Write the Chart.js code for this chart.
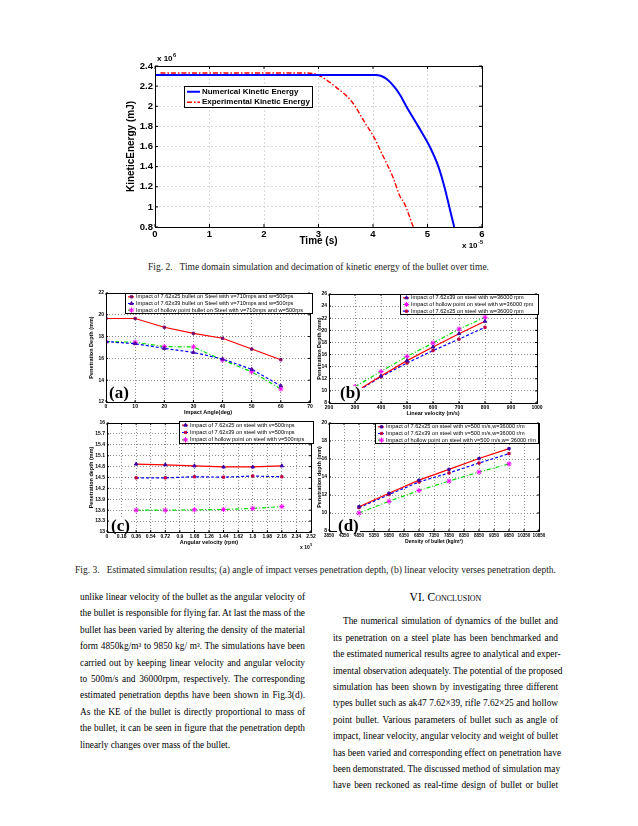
<!DOCTYPE html>
<html>
<head>
<meta charset="utf-8">
<script src="https://cdn.jsdelivr.net/npm/chart.js@4.4.0/dist/chart.umd.min.js"></script>
<style>
  html, body { margin: 0; padding: 0; background: #fff; }
  body { width: 638px; height: 826px; position: relative; overflow: hidden;
         font-family: "Liberation Serif", "Times New Roman", serif; color: #000; }
  canvas { position: absolute; }
  .cap { position: absolute; font-size: 9.5px; white-space: nowrap; color: #222; }
  .tag { position: absolute; font: bold 17px "Liberation Serif", serif; background: #fff; line-height: 13px; padding: 0 1px; }
  .col { position: absolute; width: 225px; font-size: 9.3px; line-height: 16.4px; }
  .col div { text-align: justify; text-align-last: justify; white-space: nowrap; }
  .col div.last { text-align-last: left; }
  .col div.ind { padding-left: 10px; }
  .head { text-align: center !important; text-align-last: center !important; font-variant: small-caps; }
</style>
</head>
<body>

<canvas id="fig2" width="375" height="215" style="left:125px; top:40px"></canvas>
<div class="cap" style="left:148px; top:262px">Fig. 2.&nbsp;&nbsp; Time domain simulation and decimation of kinetic energy of the bullet over time.</div>

<canvas id="figA" width="232" height="135" style="left:88px; top:285px"></canvas>
<canvas id="figB" width="234" height="135" style="left:316px; top:285px"></canvas>
<canvas id="figC" width="232" height="136" style="left:88px; top:418px"></canvas>
<canvas id="figD" width="234" height="136" style="left:316px; top:418px"></canvas>
<span class="tag" style="left:108px; top:386px">(a)</span>
<span class="tag" style="left:339px; top:386px">(b)</span>
<span class="tag" style="left:110px; top:519px">(c)</span>
<span class="tag" style="left:337px; top:519px">(d)</span>
<div class="cap" style="left:75px; top:565px">Fig. 3.&nbsp;&nbsp; Estimated simulation results; (a) angle of impact verses penetration depth, (b) linear velocity verses penetration depth.</div>

<div class="col" style="left:80px; top:589px">
  <div>unlike linear velocity of the bullet as the angular velocity of</div>
  <div>the bullet is responsible for flying far. At last the mass of the</div>
  <div>bullet has been varied by altering the density of the material</div>
  <div>form 4850kg/m³ to 9850 kg/ m³. The simulations have been</div>
  <div>carried out by keeping linear velocity and angular velocity</div>
  <div>to 500m/s and 36000rpm, respectively. The corresponding</div>
  <div>estimated penetration depths have been shown in Fig.3(d).</div>
  <div>As the KE of the bullet is directly proportional to mass of</div>
  <div>the bullet, it can be seen in figure that the penetration depth</div>
  <div class="last">linearly changes over mass of the bullet.</div>
</div>

<div class="col" style="left:333px; top:589px">
  <div class="head" style="font-size:11.5px">VI. Conclusion</div>
  <div class="ind" style="margin-top:8px">The numerical simulation of dynamics of the bullet and</div>
  <div>its penetration on a steel plate has been benchmarked and</div>
  <div>the estimated numerical results agree to analytical and exper-</div>
  <div>imental observation adequately. The potential of the proposed</div>
  <div>simulation has been shown by investigating three different</div>
  <div>types bullet such as ak47 7.62×39, rifle 7.62×25 and hollow</div>
  <div>point bullet. Various parameters of bullet such as angle of</div>
  <div>impact, linear velocity, angular velocity and weight of bullet</div>
  <div>has been varied and corresponding effect on penetration have</div>
  <div>been demonstrated. The discussed method of simulation may</div>
  <div>have been reckoned as real-time design of bullet or bullet</div>
</div>

<script>
// Fig. 2 - kinetic energy over time (x 1e-5 s, x 1e6 mJ)
const timeNum = [0, 4.05, 4.15, 4.25, 4.38, 4.5, 4.61, 4.83, 5.04, 5.2, 5.31, 5.4, 5.49];
const keNum   = [2.31, 2.31, 2.30, 2.27, 2.2, 2.11, 2.0, 1.8, 1.6, 1.4, 1.2, 1.0, 0.8];
const timeExp = [0.1, 2.8, 2.9, 3.0, 3.32, 3.62, 3.87, 4.0, 4.18, 4.37, 4.49, 4.58, 4.74];
const keExp   = [2.33, 2.33, 2.325, 2.31, 2.19, 2.04, 1.82, 1.71, 1.51, 1.29, 1.11, 1.03, 0.8];

// Fig. 3(a) - impact angle
const angle    = [0, 10, 20, 30, 40, 50, 60];
const depthA25 = [19.66, 19.66, 18.86, 18.3, 17.85, 16.86, 15.88];
const depthA39 = [17.54, 17.35, 16.92, 16.55, 15.94, 15.0, 13.48];
const depthAHP = [17.54, 17.48, 17.08, 17.05, 15.85, 14.77, 13.2];

// Fig. 3(b) - linear velocity
const linVel   = [300, 400, 500, 600, 700, 800];
const depthB39 = [9.8, 12.45, 15.0, 17.25, 19.45, 21.5];
const depthBHP = [10.7, 13.2, 15.7, 17.9, 20.2, 22.15];
const depthB25 = [9.7, 12.35, 14.6, 16.65, 18.55, 20.5];

// Fig. 3(c) - angular velocity (x 1e5 rpm)
const angVel   = [0.36, 0.72, 1.08, 1.44, 1.8, 2.16];
const depthC25 = [14.87, 14.85, 14.82, 14.79, 14.79, 14.82];
const depthC39 = [14.49, 14.49, 14.52, 14.51, 14.54, 14.52];
const depthCHP = [13.6, 13.6, 13.61, 13.62, 13.65, 13.7];

// Fig. 3(d) - density of bullet
const density  = [4850, 5850, 6850, 7850, 8850, 9850];
const depthD25 = [10.7, 12.2, 13.65, 14.85, 16.05, 17.15];
const depthD39 = [10.6, 12.05, 13.45, 14.45, 15.55, 16.6];
const depthDHP = [10.0, 11.3, 12.5, 13.55, 14.55, 15.45];

const SANS = '"Liberation Sans", Arial, sans-serif';

function pts(xs, ys) {
    return xs.map((x, i) => ({ x: x, y: ys[i] }));
}

function fmt(v) {
    return String(+v.toFixed(2));
}

/**
 * axe lineaire facon matlab (grille pointillee, taille fixe)
 */
function axis(min, max, step, title, size, fontSize, gridColor, dash) {
    return {
        type: 'linear', min: min, max: max,
        ticks: { stepSize: step, autoSkip: false, maxRotation: 0, color: '#000', padding: 2,
                 font: { family: SANS, size: fontSize, weight: 'bold' }, callback: fmt },
        grid: { color: gridColor, drawTicks: false, lineWidth: 0.8 },
        border: { display: false, dash: dash },
        title: { display: true, text: title, color: '#000', padding: 0,
                 font: { family: SANS, size: fontSize + 0.5, weight: 'bold' } },
        afterFit: s => { if (s.isHorizontal()) s.height = size; else s.width = size; }
    };
}

function line(ctx, x1, y1, x2, y2) {
    ctx.beginPath();
    ctx.moveTo(x1, y1);
    ctx.lineTo(x2, y2);
    ctx.stroke();
}

// cadre, petites graduations, legende et textes en plus
const framePlugin = {
    id: 'frame',
    afterDraw(chart, args, o) {
        const ctx = chart.ctx, a = chart.chartArea;
        ctx.save();
        ctx.strokeStyle = '#000';
        ctx.lineWidth = 1;
        ctx.setLineDash([]);
        ctx.strokeRect(Math.round(a.left) + 0.5, Math.round(a.top) + 0.5,
                       Math.round(a.width), Math.round(a.height));
        const tl = o.tick || 3;
        const sx = chart.scales.x, sy = chart.scales.y;
        sx.ticks.forEach((t, i) => {
            const p = sx.getPixelForTick(i);
            line(ctx, p, a.bottom, p, a.bottom - tl);
            line(ctx, p, a.top, p, a.top + tl);
        });
        sy.ticks.forEach((t, i) => {
            const p = sy.getPixelForTick(i);
            line(ctx, a.left, p, a.left + tl, p);
            line(ctx, a.right, p, a.right - tl, p);
        });

        const L = o.legend;
        if (L) {
            ctx.fillStyle = '#fff';
            ctx.fillRect(L.x, L.y, L.w, L.h);
            ctx.strokeRect(L.x + 0.5, L.y + 0.5, L.w, L.h);
            const n = chart.data.datasets.length;
            const rowH = L.h / n;
            let size = L.font;
            ctx.font = L.weight + ' ' + size + 'px ' + SANS;
            const maxW = Math.max(...chart.data.datasets.map(d => ctx.measureText(d.label).width));
            const room = L.w - L.textX - 2;
            if (maxW > room) size = size * room / maxW;
            ctx.font = L.weight + ' ' + size + 'px ' + SANS;
            ctx.textBaseline = 'middle';
            chart.data.datasets.forEach((d, i) => {
                const cy = L.y + rowH * (i + 0.5) + 0.5;
                ctx.strokeStyle = d.borderColor;
                ctx.lineWidth = d.borderWidth;
                ctx.setLineDash(d.borderDash || []);
                line(ctx, L.x + 3, cy, L.x + L.textX - 2, cy);
                ctx.setLineDash([]);
                if (d.pointRadius > 0) {
                    ctx.fillStyle = d.pointBackgroundColor;
                    ctx.strokeStyle = d.pointBorderColor;
                    ctx.lineWidth = 1;
                    Chart.helpers.drawPoint(ctx, { pointStyle: d.pointStyle, radius: d.pointRadius, rotation: 0, borderWidth: 1 },
                                            L.x + 1 + L.textX / 2, cy);
                }
                ctx.fillStyle = '#000';
                ctx.fillText(d.label, L.x + L.textX, cy);
            });
        }

        (o.notes || []).forEach(nt => {
            ctx.fillStyle = '#000';
            ctx.textBaseline = 'alphabetic';
            ctx.font = 'bold ' + nt.size + 'px ' + SANS;
            ctx.fillText(nt.text, nt.x, nt.y);
            const w = ctx.measureText(nt.text).width;
            ctx.font = 'bold ' + (nt.size * 0.7) + 'px ' + SANS;
            ctx.fillText(nt.sup, nt.x + w + 0.5, nt.y - nt.size * 0.55);
        });
        ctx.restore();
    }
};

function series(label, xs, ys, color, dash, mark, markColor, radius) {
    return {
        label: label, data: pts(xs, ys),
        borderColor: color, borderWidth: 1.2, borderDash: dash,
        pointStyle: mark, pointRadius: radius, pointBackgroundColor: markColor,
        pointBorderColor: markColor, pointBorderWidth: 1, tension: 0
    };
}

function panel(id, datasets, xAx, yAx, pad, frame) {
    new Chart(document.getElementById(id), {
        type: 'line',
        data: { datasets: datasets },
        options: {
            responsive: false, animation: false,
            layout: { padding: pad },
            scales: { x: xAx, y: yAx },
            plugins: { legend: { display: false }, tooltip: { enabled: false }, frame: frame }
        },
        plugins: [framePlugin]
    });
}

// ---- Fig. 2 ----
new Chart(document.getElementById('fig2'), {
    type: 'line',
    data: {
        datasets: [{
            label: 'Numerical Kinetic Energy', data: pts(timeNum, keNum),
            borderColor: '#0000ff', borderWidth: 2, pointRadius: 0,
            cubicInterpolationMode: 'monotone'
        }, {
            label: 'Experimental Kinetic Energy', data: pts(timeExp, keExp),
            borderColor: '#ff0000', borderWidth: 1.4, borderDash: [5, 2, 1.5, 2], pointRadius: 0,
            cubicInterpolationMode: 'monotone'
        }]
    },
    options: {
        responsive: false, animation: false,
        layout: { padding: { left: 0, top: 26, right: 18, bottom: 8 } },
        scales: {
            x: axis(0, 6, 1, 'Time (s)', 20, 9.5, '#d0d0d0', [2, 2]),
            y: axis(0.8, 2.4, 0.2, 'KineticEnergy (mJ)', 30, 9.5, '#d0d0d0', [2, 2])
        },
        plugins: {
            legend: { display: false }, tooltip: { enabled: false },
            frame: {
                tick: 3,
                legend: { x: 59, y: 46, w: 128, h: 21, font: 8, weight: 'bold', textX: 18 },
                notes: [{ text: 'x 10', sup: '6', size: 8, x: 32, y: 21 },
                        { text: 'x 10', sup: '-5', size: 8, x: 337, y: 208 }]
            }
        }
    },
    plugins: [framePlugin]
});

// ---- Fig. 3 ----
const G3 = '#707070', D3 = [1, 2], FS = 5;
const leg3 = (x, y, w, h) => ({ x: x, y: y, w: w, h: h, font: 5.6, weight: 'normal', textX: 11 });

panel('figA', [
    series('Impact of 7.62x25 bullet on Steel with v=710mps and w=500rps', angle, depthA25, '#ff0000', [], 'rect', '#7a0a6a', 1.6),
    series('Impact of 7.62x39 bullet on Steel with v=710mps and w=500rps', angle, depthA39, '#0000ff', [3, 2], 'triangle', '#5000a0', 2),
    series('Impact of hollow point bullet on Steel with v=710mps and w=500rps', angle, depthAHP, '#00dd00', [4, 2, 1, 2], 'star', '#ff00ff', 2.6)
], axis(0, 70, 10, 'Impact Angle(deg)', 14, FS, G3, D3),
   axis(12, 22, 2, 'Penetration Depth (mm)', 18, FS, G3, D3),
   { top: 8, right: 10, bottom: 4, left: 0 },
   { tick: 2, legend: leg3(37, 8, 187, 20) });

panel('figB', [
    series('Impact of 7.62x39 on steel with w=36000 rpm', linVel, depthB39, '#ff0000', [], 'triangle', '#3a00a0', 2),
    series('Impact of hollow point on steel with w=36000 rpm', linVel, depthBHP, '#00dd00', [4, 2, 1, 2], 'star', '#ff00ff', 2.6),
    series('Impact of 7.62x25 on steel with w=36000 rpm', linVel, depthB25, '#0000ff', [3, 2], 'rect', '#c00040', 1.6)
], axis(200, 1000, 100, 'Linear velocity (m/s)', 14, FS, G3, D3),
   axis(8, 26, 2, 'Penetration Depth (mm)', 13, FS, G3, D3),
   { top: 9, right: 13, bottom: 3, left: 0 },
   { tick: 2, legend: leg3(84, 9, 138, 20) });

panel('figC', [
    series('Impact of 7.62x25 on steel with v=500mps', angVel, depthC25, '#ff0000', [], 'triangle', '#3a00a0', 2),
    series('Impact of 7.62x39 on steel with v=500mps', angVel, depthC39, '#0000ff', [3, 2], 'rect', '#c00040', 1.6),
    series('Impact of hollow point on steel with v=500mps', angVel, depthCHP, '#00dd00', [4, 2, 1, 2], 'star', '#ff00ff', 2.6)
], axis(0, 2.52, 0.18, 'Angular velocity (rpm)', 14, FS, G3, D3),
   axis(13, 16, 0.3, 'Penetration depth (mm)', 19, FS, G3, D3),
   { top: 5, right: 9, bottom: 8, left: 0 },
   { tick: 2, legend: leg3(91, 3, 134, 22), notes: [{ text: 'x 10', sup: '5', size: 5, x: 212, y: 131 }] });

panel('figD', [
    series('Impact of 7.62x25 on steel with v=500 m/s,w=36000 r/m', density, depthD25, '#ff0000', [], 'rect', '#3a00a0', 1.6),
    series('Impact of 7.62x39 on steel with v=500 m/s,w=36000 r/m', density, depthD39, '#0000ff', [3, 2], 'rect', '#c00040', 1.6),
    series('Impact of hollow point on steel with v=500 m/s,w= 36000 r/m', density, depthDHP, '#00dd00', [4, 2, 1, 2], 'star', '#ff00ff', 2.6)
], axis(3850, 10850, 500, 'Density of bullet (kg/m³)', 14, 4.6, G3, D3),
   axis(8, 20, 2, 'Penetration depth (mm)', 13, FS, G3, D3),
   { top: 5, right: 11, bottom: 9, left: 0 },
   { tick: 2, legend: leg3(59, 5, 163, 20) });
</script>
</body>
</html>
